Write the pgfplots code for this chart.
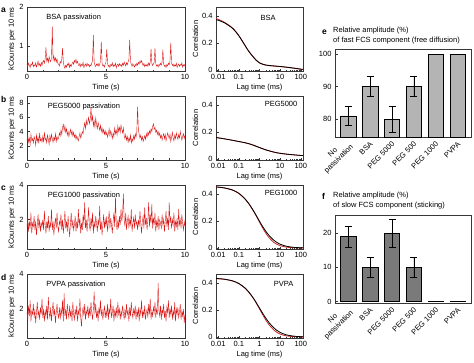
\documentclass[border=0pt]{standalone}
\usepackage{fontspec}
\setmainfont{Liberation Sans}
\usepackage{pgfplots}
\usepackage{pgfplotstable}
\pgfplotsset{compat=1.18}
\newcommand\fs{\fontsize{7.5}{8.5}\selectfont}
\definecolor{trace}{RGB}{218,22,22}
\definecolor{fitred}{RGB}{200,35,35}
\definecolor{barE}{RGB}{180,180,180}
\definecolor{barF}{RGB}{122,122,122}
\definecolor{axc}{RGB}{55,55,55}

% time traces, 10 ms bins resampled every 0.05 s
\pgfplotstableread[row sep=\\, header=false]{
0.52\\0.47\\0.55\\0.49\\0.44\\0.53\\0.50\\0.58\\0.46\\0.51\\0.48\\0.56\\0.45\\0.52\\0.60\\0.49\\0.54\\0.47\\0.57\\0.50\\
0.58\\0.62\\0.55\\0.66\\0.96\\0.60\\0.68\\0.57\\0.72\\0.63\\0.59\\0.70\\1.50\\0.64\\0.74\\0.61\\0.69\\0.58\\0.66\\0.55\\
0.52\\0.48\\0.60\\0.55\\0.65\\0.94\\0.58\\0.47\\0.42\\0.50\\0.45\\0.53\\0.49\\0.56\\0.44\\0.51\\0.47\\0.54\\0.58\\0.52\\
0.62\\0.57\\0.65\\0.55\\0.60\\0.51\\0.48\\0.55\\0.46\\0.52\\0.49\\0.57\\0.44\\0.50\\0.53\\0.47\\0.55\\0.49\\0.52\\0.46\\
0.51\\0.48\\0.56\\0.62\\1.28\\0.58\\0.50\\0.46\\0.53\\0.49\\0.55\\0.47\\0.52\\0.60\\1.11\\0.56\\0.48\\0.51\\0.45\\0.53\\
0.58\\0.92\\0.54\\0.47\\0.50\\0.44\\0.52\\0.49\\0.56\\0.46\\0.51\\0.48\\0.55\\0.43\\0.50\\0.53\\0.47\\0.54\\0.49\\0.52\\
0.46\\0.55\\0.50\\0.58\\0.53\\0.48\\0.56\\0.51\\0.59\\0.64\\1.15\\0.60\\0.52\\0.47\\0.54\\0.49\\0.45\\0.52\\0.48\\0.55\\
0.50\\0.57\\0.53\\0.61\\0.56\\0.62\\0.54\\0.49\\0.55\\0.46\\0.51\\0.48\\0.53\\0.47\\0.56\\0.50\\0.58\\0.92\\0.55\\0.49\\
0.53\\0.57\\0.94\\0.54\\0.48\\0.51\\0.45\\0.52\\0.49\\0.55\\0.50\\0.58\\0.90\\0.53\\0.47\\0.50\\0.44\\0.52\\0.48\\0.55\\
0.51\\0.60\\1.08\\0.56\\0.49\\0.53\\0.46\\0.51\\0.48\\0.55\\0.44\\0.50\\0.53\\0.47\\0.52\\0.49\\0.56\\0.45\\0.51\\0.48\\0.53\\
}\tsA
\pgfplotstableread[row sep=\\, header=false]{
2.8\\3.4\\2.5\\3.1\\2.2\\3.6\\2.7\\3.0\\2.4\\3.3\\2.9\\2.1\\3.5\\2.6\\3.2\\2.3\\3.8\\2.7\\3.0\\2.5\\
3.3\\2.6\\3.9\\2.8\\3.1\\2.4\\3.5\\2.9\\2.2\\3.4\\2.7\\3.6\\3.0\\2.5\\3.2\\2.8\\3.7\\2.6\\3.3\\2.9\\
3.1\\3.8\\3.4\\4.2\\3.6\\4.6\\5.0\\4.1\\4.8\\3.9\\4.4\\3.5\\4.0\\3.3\\3.8\\4.3\\3.6\\4.1\\3.4\\3.9\\
3.2\\3.6\\2.9\\3.4\\3.0\\2.7\\3.3\\3.8\\3.1\\3.5\\4.0\\3.7\\4.6\\5.2\\4.4\\5.6\\4.9\\5.3\\6.0\\5.1\\
5.7\\7.4\\5.4\\6.2\\4.8\\5.5\\4.6\\5.9\\5.0\\4.4\\5.3\\4.7\\4.2\\4.9\\4.0\\4.5\\3.8\\4.3\\3.6\\4.1\\
3.5\\3.9\\3.2\\3.7\\4.4\\3.4\\4.1\\3.6\\3.0\\3.8\\3.3\\4.5\\3.7\\4.2\\3.5\\4.8\\4.0\\4.6\\3.9\\4.9\\
4.3\\3.8\\4.5\\3.4\\3.0\\3.6\\2.8\\3.3\\2.5\\3.1\\2.7\\3.5\\2.4\\3.0\\2.6\\3.4\\2.9\\3.7\\3.2\\4.0\\
7.5\\4.2\\3.6\\3.1\\3.5\\2.8\\3.3\\2.6\\3.0\\3.4\\2.9\\3.7\\3.2\\3.9\\3.5\\4.1\\3.7\\4.4\\4.0\\4.7\\
5.1\\4.3\\4.6\\3.9\\4.2\\3.6\\4.0\\3.4\\3.8\\3.1\\3.5\\2.8\\3.3\\3.7\\3.0\\3.6\\2.7\\3.2\\3.8\\3.4\\
3.0\\3.6\\2.6\\3.2\\3.9\\3.1\\2.7\\3.5\\3.0\\3.8\\3.3\\2.9\\3.6\\3.1\\4.0\\3.4\\2.8\\3.3\\3.7\\3.0\\3.5\\
}\tsB
\pgfplotstableread[row sep=\\, header=false]{
1.6\\2.1\\1.3\\1.9\\1.5\\2.4\\1.2\\1.8\\1.6\\2.2\\1.4\\1.9\\1.1\\1.7\\2.3\\1.5\\2.0\\1.3\\1.8\\1.6\\
2.0\\1.4\\2.5\\1.7\\1.2\\1.9\\1.5\\2.2\\1.3\\1.8\\1.6\\2.6\\1.4\\1.9\\1.1\\1.7\\2.1\\1.5\\2.4\\1.6\\
1.3\\1.9\\1.7\\2.3\\1.4\\2.0\\1.2\\1.8\\2.5\\1.5\\1.9\\1.3\\2.2\\1.6\\1.0\\1.8\\2.4\\1.5\\2.0\\1.4\\
1.7\\2.2\\1.3\\1.9\\1.5\\2.6\\1.6\\2.1\\1.2\\1.8\\1.4\\2.3\\1.7\\3.0\\1.5\\2.0\\1.3\\1.9\\2.7\\1.6\\
1.4\\2.1\\1.6\\2.4\\1.2\\1.9\\1.5\\2.2\\1.8\\1.3\\2.0\\1.6\\2.8\\1.4\\1.9\\1.1\\1.7\\2.3\\1.5\\2.0\\
1.6\\2.2\\1.3\\1.9\\2.5\\1.5\\2.1\\1.7\\1.2\\1.9\\2.4\\1.6\\3.3\\1.8\\1.4\\2.0\\1.5\\2.2\\1.7\\2.6\\
1.9\\2.3\\3.5\\2.0\\1.6\\2.4\\1.4\\1.9\\2.2\\1.5\\2.0\\1.7\\2.6\\1.3\\1.8\\2.1\\1.5\\2.3\\1.7\\1.9\\
1.4\\2.0\\1.6\\2.5\\1.8\\1.2\\1.9\\2.2\\1.5\\2.7\\1.7\\2.1\\1.4\\2.0\\3.0\\1.6\\2.3\\1.8\\2.9\\1.5\\
2.1\\1.7\\2.4\\1.3\\1.9\\1.6\\2.2\\1.4\\2.0\\1.8\\1.5\\2.3\\1.7\\2.0\\1.3\\1.9\\2.5\\1.6\\2.1\\1.4\\
3.0\\1.8\\2.2\\1.5\\2.0\\1.7\\2.4\\1.3\\1.9\\1.6\\2.1\\1.4\\2.6\\1.7\\2.0\\1.5\\2.3\\1.8\\1.4\\1.9\\1.6\\
}\tsC
\pgfplotstableread[row sep=\\, header=false]{
1.8\\1.4\\2.2\\1.6\\2.5\\1.3\\1.9\\1.7\\2.3\\1.5\\2.0\\1.2\\1.8\\2.4\\1.6\\1.9\\1.4\\2.1\\1.7\\2.6\\
1.5\\2.0\\1.3\\1.9\\1.6\\2.2\\1.4\\2.7\\1.8\\1.5\\2.1\\1.3\\1.9\\2.4\\1.6\\2.0\\1.2\\1.8\\2.3\\1.7\\
1.5\\2.1\\1.4\\2.0\\1.7\\2.5\\1.3\\2.9\\1.6\\2.0\\1.4\\2.3\\1.8\\1.5\\2.2\\1.6\\1.9\\1.3\\2.4\\1.7\\
1.4\\2.0\\1.6\\2.2\\1.3\\1.9\\1.7\\2.6\\1.5\\1.0\\1.8\\2.1\\1.6\\2.3\\1.4\\1.9\\1.7\\2.2\\1.5\\2.0\\
1.6\\2.4\\1.8\\1.4\\2.0\\3.0\\1.7\\2.3\\1.5\\1.9\\1.3\\2.1\\1.7\\2.5\\1.6\\2.0\\1.4\\1.8\\2.2\\1.5\\
1.9\\1.6\\2.3\\1.4\\2.0\\1.7\\2.6\\1.5\\1.8\\2.2\\1.3\\1.9\\1.6\\2.1\\1.5\\2.4\\1.7\\2.0\\1.4\\1.9\\
1.6\\2.2\\1.8\\1.4\\2.0\\1.5\\2.3\\1.7\\1.9\\1.3\\2.1\\1.6\\2.4\\1.8\\1.5\\2.0\\1.7\\2.2\\1.4\\1.9\\
1.6\\2.1\\1.3\\2.0\\1.7\\2.5\\1.5\\1.9\\1.6\\2.2\\1.4\\1.8\\2.0\\1.5\\2.3\\1.7\\2.6\\1.4\\1.9\\1.6\\
2.1\\1.8\\2.4\\1.5\\2.0\\1.7\\3.5\\1.9\\1.6\\2.2\\1.4\\2.0\\1.7\\2.3\\1.5\\1.9\\1.3\\2.1\\1.8\\2.5\\
1.5\\2.0\\1.7\\2.2\\1.4\\1.9\\1.6\\2.4\\1.3\\2.0\\1.7\\2.1\\1.5\\1.8\\2.3\\1.4\\1.9\\1.6\\2.0\\1.2\\1.7\\
}\tsD

\pgfplotsset{
  mybase/.style={scale only axis, axis line style={line width=0.5pt, axc},
    tick style={axc, line width=0.4pt}, tick align=inside,
    major tick length=2.5pt, minor tick length=1.5pt, tick pos=left,
    tick label style={font=\fs}, label style={font=\fs},
    /pgf/number format/assume math mode=true},
  myts/.style={mybase, width=158pt, height=64pt, xmin=0, xmax=10,
    xtick={0,5,10}, minor xtick={1,2,3,4,6,7,8,9},
    xlabel={Time (s)}, ylabel={kCounts per 10 ms},
    xlabel style={yshift=3pt}, ylabel style={yshift=-3pt}},
  mycorr/.style={mybase, width=87pt, height=64pt,
    xmin=0.0078, xmax=128, ymin=-0.008, ymax=0.47,
    xtick={0.01,0.1,1,10,100}, xticklabels={0.01,0.1,1,10,100},
    ytick={0,0.2,0.4}, yticklabels={0,0.2,0.4},
    xlabel={Lag time (ms)}, ylabel={Correlation},
    xlabel style={yshift=3pt}, ylabel style={yshift=-3pt}},
  mybars/.style={mybase, width=136pt, height=88pt, xmin=-0.6, xmax=5.6,
    xtick={0,1,2,3,4,5},
    xticklabels={{No\\passivation},BSA,PEG 5000,PEG 500,PEG 1000,PVPA},
    xticklabel style={xshift=2pt, yshift=-5pt, rotate=45, anchor=east, align=center, inner sep=1pt},
    xtick style={draw=none}},
  trc/.style={color=trace, line width=0.4pt},
  fitr/.style={fitred, line width=0.8pt, smooth},
  fitk/.style={black, line width=0.8pt, smooth},
}

\begin{document}
\begin{tikzpicture}
% ---------- a ----------
\begin{axis}[myts, at={(27pt,-7pt)}, anchor=north west, ymin=0.35, ymax=2, ytick={1,2}]
\addplot[trc] table[x expr=\coordindex*0.05, y index=0] {\tsA};
\node[font=\fs, anchor=west] at (axis description cs:0.1,0.83) {BSA passivation};
\end{axis}
\begin{semilogxaxis}[mycorr, at={(216pt,-7pt)}, anchor=north west]
\addplot[fitr] coordinates {(0.0078,0.384)(0.01,0.378)(0.02,0.356)(0.05,0.312)(0.1,0.256)(0.2,0.182)(0.3,0.139)(0.5,0.096)(0.7,0.071)(1,0.052)(1.5,0.041)(2,0.036)(3,0.032)(5,0.029)(7,0.027)(10,0.025)(20,0.020)(50,0.012)(100,0.005)(128,0.003)};
\addplot[fitk] coordinates {(0.0078,0.375)(0.01,0.371)(0.02,0.352)(0.05,0.310)(0.1,0.255)(0.2,0.182)(0.3,0.140)(0.5,0.097)(0.7,0.072)(1,0.053)(1.5,0.042)(2,0.037)(3,0.033)(5,0.030)(7,0.028)(10,0.026)(20,0.021)(50,0.013)(100,0.006)(128,0.004)};
\node[font=\fs] at (axis description cs:0.6,0.83) {BSA};
\end{semilogxaxis}
% ---------- b ----------
\begin{axis}[myts, at={(27pt,-96pt)}, anchor=north west, ymin=0, ymax=9, ytick={2,4,6,8}]
\addplot[trc] table[x expr=\coordindex*0.05, y index=0] {\tsB};
\node[font=\fs, anchor=west] at (axis description cs:0.11,0.83) {PEG5000 passivation};
\end{axis}
\begin{semilogxaxis}[mycorr, at={(216pt,-96pt)}, anchor=north west]
\addplot[fitr] coordinates {(0.0078,0.161)(0.01,0.158)(0.02,0.150)(0.05,0.139)(0.1,0.130)(0.2,0.121)(0.3,0.114)(0.5,0.103)(0.7,0.094)(1,0.085)(1.5,0.075)(2,0.068)(3,0.060)(5,0.051)(7,0.046)(10,0.042)(20,0.036)(50,0.030)(100,0.026)(128,0.025)};
\addplot[fitk] coordinates {(0.0078,0.160)(0.01,0.157)(0.02,0.150)(0.05,0.139)(0.1,0.130)(0.2,0.121)(0.3,0.114)(0.5,0.103)(0.7,0.094)(1,0.085)(1.5,0.075)(2,0.068)(3,0.060)(5,0.051)(7,0.046)(10,0.042)(20,0.036)(50,0.030)(100,0.026)(128,0.025)};
\node[font=\fs, anchor=east] at (axis description cs:0.975,0.87) {PEG5000};
\end{semilogxaxis}
% ---------- c ----------
\begin{axis}[myts, at={(27pt,-185pt)}, anchor=north west, ymin=0.3, ymax=4, ytick={2,4}]
\addplot[trc] table[x expr=\coordindex*0.05, y index=0] {\tsC};
\node[font=\fs, anchor=west] at (axis description cs:0.11,0.83) {PEG1000 passivation};
\end{axis}
\begin{semilogxaxis}[mycorr, at={(216pt,-185pt)}, anchor=north west]
\addplot[fitr] coordinates {(0.0078,0.4545)(0.01,0.4533)(0.02,0.4475)(0.05,0.4314)(0.1,0.4069)(0.2,0.3652)(0.3,0.3311)(0.5,0.278)(0.7,0.238)(1,0.193)(1.5,0.143)(2,0.111)(3,0.074)(5,0.041)(7,0.027)(10,0.017)(20,0.006)(50,0.0015)(100,0.0006)(128,0.0004)};
\addplot[fitk] coordinates {(0.0078,0.4555)(0.01,0.4543)(0.02,0.4485)(0.05,0.4324)(0.1,0.4079)(0.2,0.3662)(0.3,0.3321)(0.5,0.2796)(0.7,0.2412)(1,0.1995)(1.5,0.1543)(2,0.1253)(3,0.0903)(5,0.0568)(7,0.0406)(10,0.0278)(20,0.0125)(50,0.0039)(100,0.0015)(128,0.0011)};
\node[font=\fs, anchor=east] at (axis description cs:0.975,0.87) {PEG1000};
\end{semilogxaxis}
% ---------- d ----------
\begin{axis}[myts, at={(27pt,-274pt)}, anchor=north west, ymin=0.35, ymax=4, ytick={2,4}]
\addplot[trc] table[x expr=\coordindex*0.05, y index=0] {\tsD};
\node[font=\fs, anchor=west] at (axis description cs:0.1,0.83) {PVPA passivation};
\end{axis}
\begin{semilogxaxis}[mycorr, at={(216pt,-274pt)}, anchor=north west]
\addplot[fitr] coordinates {(0.0078,0.4355)(0.01,0.4346)(0.02,0.4302)(0.05,0.4176)(0.1,0.3982)(0.2,0.3642)(0.3,0.3354)(0.5,0.289)(0.7,0.252)(1,0.209)(1.5,0.160)(2,0.127)(3,0.088)(5,0.051)(7,0.034)(10,0.021)(20,0.008)(50,0.002)(100,0.0008)(128,0.0006)};
\addplot[fitk] coordinates {(0.0078,0.4365)(0.01,0.4356)(0.02,0.4312)(0.05,0.4186)(0.1,0.3992)(0.2,0.3652)(0.3,0.3364)(0.5,0.2904)(0.7,0.2553)(1,0.2157)(1.5,0.1709)(2,0.1411)(3,0.1039)(5,0.0669)(7,0.0486)(10,0.0338)(20,0.0156)(50,0.0050)(100,0.0019)(128,0.0014)};
\node[font=\fs, anchor=east] at (axis description cs:0.93,0.85) {PVPA};
\end{semilogxaxis}
% ---------- e ----------
\begin{axis}[mybars, at={(335pt,-49pt)}, anchor=north west, ymin=74.5, ymax=101.5, ytick={80,90,100}]
\addplot[ybar, bar width=15.5pt, fill=barE, draw=black, line width=0.6pt,
  error bars/.cd, y dir=both, y explicit,
  error bar style={line width=0.6pt, black},
  error mark options={rotate=90, mark size=3.5pt, line width=0.6pt, black}]
  coordinates {(0,81)+-(0,3) (1,90)+-(0,3) (2,80)+-(0,4) (3,90)+-(0,3) (4,99.9)+-(0,0.1) (5,99.9)+-(0,0.1)};
\end{axis}
% ---------- f ----------
\begin{axis}[mybars, at={(335pt,-215pt)}, anchor=north west, ymin=-0.4, ymax=25.3, ytick={0,10,20}]
\addplot[ybar, bar width=15.5pt, fill=barF, draw=black, line width=0.6pt,
  error bars/.cd, y dir=both, y explicit,
  error bar style={line width=0.6pt, black},
  error mark options={rotate=90, mark size=3.5pt, line width=0.6pt, black}]
  coordinates {(0,19)+-(0,3) (1,10)+-(0,3) (2,20)+-(0,4) (3,10)+-(0,3) (4,0.1)+-(0,0.1) (5,0.1)+-(0,0.1)};
\end{axis}
% ---------- panel letters and titles ----------
\begin{scope}[every node/.style={font=\bfseries\fontsize{8.5}{9}\selectfont, inner sep=0pt, anchor=west}]
\node at (1pt,-10pt) {a};
\node at (1pt,-99pt) {b};
\node at (1pt,-188pt) {c};
\node at (1pt,-277pt) {d};
\node at (322pt,-32pt) {e};
\node at (322pt,-196pt) {f};
\end{scope}
\node[font=\fs, anchor=west, inner sep=0pt] at (333pt,-30.5pt) {Relative amplitude (\%)};
\node[font=\fs, anchor=west, inner sep=0pt] at (333pt,-40.5pt) {of fast FCS component (free diffusion)};
\node[font=\fs, anchor=west, inner sep=0pt] at (333pt,-196pt) {Relative amplitude (\%)};
\node[font=\fs, anchor=west, inner sep=0pt] at (333pt,-206pt) {of slow FCS component (sticking)};
\pgfresetboundingbox
\path (0pt,0pt) rectangle (474pt,-362pt);
\end{tikzpicture}
\end{document}
